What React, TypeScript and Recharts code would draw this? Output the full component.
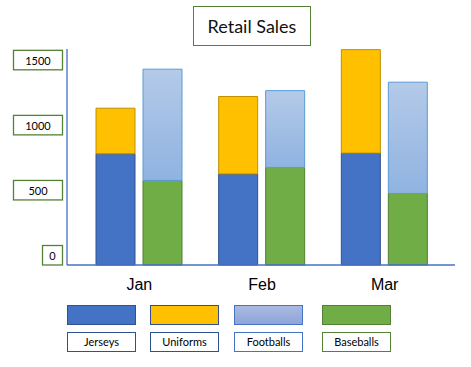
import React from 'react';
import { BarChart, Bar, XAxis, YAxis } from 'recharts';

const months = ['Jan', 'Feb', 'Mar'];
const jerseys = [855, 700, 860];
const uniforms = [350, 595, 795];
const baseballs = [650, 750, 550];
const footballs = [855, 590, 855];
const yTicks = [0, 500, 1000, 1500];

const data = months.map((month, i) => ({
  month,
  Jerseys: jerseys[i],
  Uniforms: uniforms[i],
  Baseballs: baseballs[i],
  Footballs: footballs[i],
}));

const legendItems = [
  { name: 'Jerseys', fill: '#4472C4', border: '#2F528F', labelBorder: '#2F528F' },
  { name: 'Uniforms', fill: '#FFC000', border: '#2F528F', labelBorder: '#2F528F' },
  { name: 'Footballs', fill: 'linear-gradient(#AAB9E2, #8EA5D9)', border: '#4472C4', labelBorder: '#4472C4' },
  { name: 'Baseballs', fill: '#70AD47', border: '#548235', labelBorder: '#548235' },
];

const LABEL_FONT = 'Lato, "Open Sans", sans-serif';

// boxed tick labels sit just above their value, right edge at x=62
const YTick = ({ y, payload }: any) => {
  const isZero = payload.value === 0;
  const w = isZero ? 20 : 49;
  const right = 62.5;
  return (
    <g>
      <rect
        x={right - w}
        y={y - 19.5}
        width={w}
        height={19.5}
        fill="#fff"
        stroke="#548235"
        strokeWidth={1.3}
      />
      <text
        x={right - w / 2}
        y={y - 9.5}
        textAnchor="middle"
        dominantBaseline="central"
        fontSize={11}
        fontFamily={LABEL_FONT}
        fill="#000"
      >
        {payload.value}
      </text>
    </g>
  );
};

const XTick = ({ x, y, payload }: any) => (
  <text
    x={x}
    y={y + 17}
    textAnchor="middle"
    fontSize={16}
    fontFamily='"Liberation Sans", Arial, sans-serif'
    fill="#000"
  >
    {payload.value}
  </text>
);

export default function App() {
  return (
    <div style={{ position: 'absolute', left: 0, top: 0, width: 471, height: 367, background: '#fff' }}>
      <div
        style={{
          position: 'absolute',
          left: 193,
          top: 6,
          width: 118,
          height: 40,
          boxSizing: 'border-box',
          border: '1.3px solid #548235',
          display: 'flex',
          alignItems: 'center',
          justifyContent: 'center',
          fontFamily: LABEL_FONT,
          fontSize: 18,
          color: '#111',
        }}
      >
        Retail Sales
      </div>
      <BarChart
        width={471}
        height={367}
        data={data}
        margin={{ top: 49, right: 16, left: 0, bottom: 72 }}
        barSize={39}
        barGap={8}
      >
        <defs>
          <linearGradient id="footGrad" x1="0" y1="0" x2="0" y2="1">
            <stop offset="0%" stopColor="#B4CAE8" />
            <stop offset="100%" stopColor="#8FB3E1" />
          </linearGradient>
        </defs>
        <XAxis
          dataKey="month"
          axisLine={{ stroke: '#4472C4', strokeWidth: 1.3 }}
          tickLine={false}
          tick={<XTick />}
          padding={{ left: 11, right: 9 }}
          height={30}
        />
        <YAxis
          width={67}
          domain={[0, 1660]}
          ticks={yTicks}
          axisLine={{ stroke: '#4472C4', strokeWidth: 1.3 }}
          tickLine={false}
          tick={<YTick />}
        />
        <Bar dataKey="Jerseys" stackId="a" fill="#4472C4" stroke="#2F528F" strokeWidth={1} isAnimationActive={false} />
        <Bar dataKey="Uniforms" stackId="a" fill="#FFC000" stroke="#BF9000" strokeWidth={1} isAnimationActive={false} />
        <Bar dataKey="Baseballs" stackId="b" fill="#70AD47" stroke="#507E32" strokeWidth={1} isAnimationActive={false} />
        <Bar dataKey="Footballs" stackId="b" fill="url(#footGrad)" stroke="#5B9BD5" strokeWidth={1} isAnimationActive={false} />
      </BarChart>
      {legendItems.map((item, i) => {
        const left = [67, 150, 234, 322][i];
        return (
          <React.Fragment key={item.name}>
            <div
              style={{
                position: 'absolute',
                left,
                top: 305,
                width: 69,
                height: 20,
                boxSizing: 'border-box',
                border: `1.3px solid ${item.border}`,
                background: item.fill,
              }}
            />
            <div
              style={{
                position: 'absolute',
                left,
                top: 332,
                width: 69,
                height: 19.5,
                boxSizing: 'border-box',
                border: `1.3px solid ${item.labelBorder}`,
                display: 'flex',
                alignItems: 'center',
                justifyContent: 'center',
                fontFamily: LABEL_FONT,
                fontSize: 11,
                color: '#000',
              }}
            >
              {item.name}
            </div>
          </React.Fragment>
        );
      })}
    </div>
  );
}
